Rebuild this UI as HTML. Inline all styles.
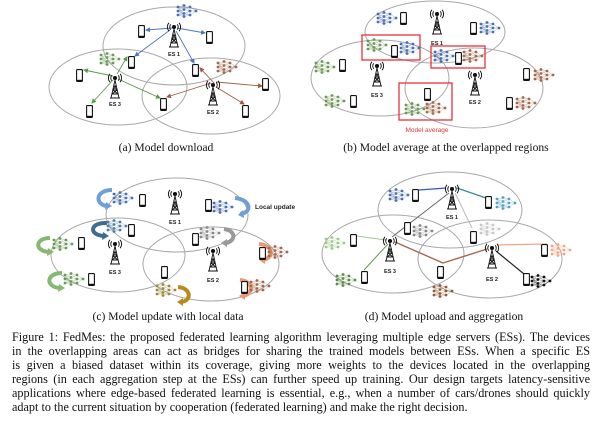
<!DOCTYPE html>
<html><head><meta charset="utf-8"><style>
html,body{margin:0;padding:0;background:#fff;width:600px;height:428px;overflow:hidden}
svg{display:block}
.cap{font-family:"Liberation Serif",serif;font-size:11.6px;fill:#111}
.es{font-family:"Liberation Sans",sans-serif;font-size:5.5px;font-weight:bold;fill:#222}
.el{fill:none;stroke:#a8a8a8;stroke-width:1}
#txt{position:absolute;left:12px;top:330px;width:578px;font-family:"Liberation Serif",serif;font-size:12.2px;line-height:14px;color:#111}
#txt div{text-align:justify;text-align-last:justify;white-space:nowrap}
#txt div.l{text-align-last:left}
</style></head><body>
<svg width="600" height="428" viewBox="0 0 600 428" style="position:absolute;left:0;top:0">
<defs>
<symbol id="nn" viewBox="0 0 20 14" overflow="visible">
<g stroke="currentColor" stroke-width="0.35" fill="none" opacity="0.8">
<path d="M1 3L7 1.5M1 3L7 5.5M1 3L7 9.5M1 7L7 1.5M1 7L7 5.5M1 7L7 9.5M1 7L7 12.5M1 11L7 5.5M1 11L7 9.5M1 11L7 12.5M1 3L7 12.5M7 1.5L13 3M7 5.5L13 3M7 5.5L13 7M7 9.5L13 7M7 9.5L13 11M7 12.5L13 11M7 1.5L13 7M7 12.5L13 7M13 3L19 7M13 7L19 7M13 11L19 7"/>
</g>
<g fill="currentColor">
<circle cx="1" cy="3" r="1.4"/><circle cx="1" cy="7" r="1.4"/><circle cx="1" cy="11" r="1.4"/>
<circle cx="7" cy="1.5" r="1.4"/><circle cx="7" cy="5.5" r="1.4"/><circle cx="7" cy="9.5" r="1.4"/><circle cx="7" cy="12.5" r="1.4"/>
<circle cx="13" cy="3" r="1.4"/><circle cx="13" cy="7" r="1.4"/><circle cx="13" cy="11" r="1.4"/>
<circle cx="19" cy="7" r="1.4"/>
</g>
</symbol>
<symbol id="ph" viewBox="0 0 7 13" overflow="visible">
<rect x="0.6" y="0.6" width="5.8" height="11.8" rx="0.8" fill="#fff" stroke="#111" stroke-width="1.1"/>
<rect x="0.6" y="10.8" width="5.8" height="1.6" fill="#111"/>
</symbol>
<symbol id="tw" viewBox="0 0 14 26" overflow="visible">
<g fill="none" stroke="#111" stroke-width="0.9">
<circle cx="7" cy="5" r="1.6" fill="#111"/>
<path d="M3.8 2.3A4 4 0 0 0 3.8 7.7M10.2 2.3A4 4 0 0 1 10.2 7.7M2 0.8A6.3 6.3 0 0 0 2 9.2M12 0.8A6.3 6.3 0 0 1 12 9.2"/>
<path d="M7 7L3 25M7 7L11 25M5.6 13L8.4 13M4.8 17L9.2 17M4 21L10 21M5.6 13L9.2 17M8.4 13L4.8 17M4.8 17L10 21M9.2 17L4 21M2 25L12 25"/>
</g>
</symbol>
<marker id="ab" markerWidth="5" markerHeight="5" refX="4" refY="2.5" orient="auto" markerUnits="userSpaceOnUse"><path d="M0 0L5 2.5L0 5z" fill="#4a78c0"/></marker>
<marker id="ag" markerWidth="5" markerHeight="5" refX="4" refY="2.5" orient="auto" markerUnits="userSpaceOnUse"><path d="M0 0L5 2.5L0 5z" fill="#5a9a4a"/></marker>
<marker id="ar" markerWidth="5" markerHeight="5" refX="4" refY="2.5" orient="auto" markerUnits="userSpaceOnUse"><path d="M0 0L5 2.5L0 5z" fill="#a05a40"/></marker>
</defs>

<!-- (a) -->
<ellipse class="el" cx="174" cy="46" rx="71" ry="39"/>
<ellipse class="el" cx="118" cy="87" rx="69" ry="38"/>
<ellipse class="el" cx="211" cy="96" rx="69" ry="38"/>
<g stroke="#4a78c0" stroke-width="0.9" marker-end="url(#ab)">
<line x1="172" y1="28" x2="146" y2="30"/><line x1="177" y1="28" x2="205" y2="33"/>
<line x1="170" y1="30" x2="135" y2="56"/><line x1="176" y1="31" x2="194" y2="63"/>
</g>
<g stroke="#5a9a4a" stroke-width="0.9" marker-end="url(#ag)">
<line x1="113" y1="76" x2="84" y2="70"/><line x1="113" y1="80" x2="92" y2="103"/>
<line x1="118" y1="79" x2="160" y2="98"/><line x1="117" y1="74" x2="127" y2="57"/>
</g>
<g stroke="#a05a40" stroke-width="0.9" marker-end="url(#ar)">
<line x1="211" y1="83" x2="167" y2="97"/><line x1="214" y1="83" x2="200" y2="68"/>
<line x1="216" y1="82" x2="262" y2="86"/><line x1="216" y1="87" x2="244" y2="104"/>
</g>
<use href="#nn" x="177" y="4" width="20" height="14" style="color:#4a6fb0"/>
<use href="#nn" x="100" y="52" width="20" height="14" style="color:#6a9a55"/>
<use href="#nn" x="217" y="60" width="20" height="14" style="color:#a5684a"/>
<use href="#tw" x="167" y="22" width="14" height="26"/><text class="es" x="174" y="56" text-anchor="middle">ES 1</text>
<use href="#tw" x="108" y="73" width="14" height="26"/><text class="es" x="115" y="106" text-anchor="middle">ES 3</text>
<use href="#tw" x="206" y="80" width="14" height="26"/><text class="es" x="213" y="114" text-anchor="middle">ES 2</text>
<use href="#ph" x="138" y="25" width="7" height="13"/><use href="#ph" x="206" y="31" width="7" height="13"/>
<use href="#ph" x="128" y="56" width="7" height="13"/><use href="#ph" x="192" y="64" width="7" height="13"/>
<use href="#ph" x="76" y="69" width="7" height="13"/><use href="#ph" x="262" y="78" width="7" height="13"/>
<use href="#ph" x="86" y="105" width="7" height="13"/><use href="#ph" x="160" y="98" width="7" height="13"/>
<use href="#ph" x="242" y="105" width="7" height="13"/>
<text class="cap" x="166" y="151" text-anchor="middle">(a) Model download</text>

<!-- (b) -->
<ellipse class="el" cx="435" cy="32" rx="70" ry="31"/>
<ellipse class="el" cx="380" cy="78" rx="69" ry="38"/>
<ellipse class="el" cx="474" cy="88" rx="69" ry="40"/>
<g fill="none" stroke="#e8333a" stroke-width="1.3">
<rect x="362" y="35" width="58" height="25"/><rect x="431" y="46" width="54" height="22"/><rect x="399" y="83" width="53" height="37"/>
</g>
<text x="427" y="132" text-anchor="middle" style="font-family:'Liberation Sans',sans-serif;font-size:6.5px;fill:#e8333a">Model average</text>
<use href="#tw" x="430" y="9" width="14" height="26"/><text class="es" x="437" y="45" text-anchor="middle">ES 1</text>
<use href="#tw" x="370" y="61" width="14" height="26"/><text class="es" x="377" y="97" text-anchor="middle">ES 3</text>
<use href="#tw" x="468" y="70" width="14" height="26"/><text class="es" x="475" y="104" text-anchor="middle">ES 2</text>
<g style="color:#4a6fb0"><use href="#nn" x="377" y="11" width="20" height="14"/><use href="#nn" x="480" y="21" width="20" height="14"/><use href="#nn" x="400" y="41" width="20" height="14"/><use href="#nn" x="434" y="49" width="20" height="14"/></g>
<g style="color:#6a9a55"><use href="#nn" x="367" y="38" width="20" height="14"/><use href="#nn" x="315" y="60" width="20" height="14"/><use href="#nn" x="325" y="94" width="20" height="14"/><use href="#nn" x="405" y="102" width="20" height="14"/></g>
<g style="color:#a5684a"><use href="#nn" x="463" y="49" width="20" height="14"/><use href="#nn" x="534" y="68" width="20" height="14"/><use href="#nn" x="516" y="96" width="20" height="14"/><use href="#nn" x="426" y="101" width="20" height="14"/></g>
<use href="#ph" x="400" y="12" width="7" height="13"/><use href="#ph" x="470" y="22" width="7" height="13"/>
<use href="#ph" x="391" y="45" width="7" height="13"/><use href="#ph" x="455" y="52" width="7" height="13"/>
<use href="#ph" x="339" y="59" width="7" height="13"/><use href="#ph" x="350" y="95" width="7" height="13"/>
<use href="#ph" x="424" y="88" width="7" height="13"/><use href="#ph" x="523" y="68" width="7" height="13"/>
<use href="#ph" x="506" y="97" width="7" height="13"/>
<text class="cap" x="446" y="151" text-anchor="middle">(b) Model average at the overlapped regions</text>

<!-- (c) -->
<ellipse class="el" cx="177" cy="215" rx="71" ry="37"/>
<ellipse class="el" cx="118" cy="255" rx="67" ry="37"/>
<ellipse class="el" cx="211" cy="264" rx="68" ry="37"/>
<g fill="none" stroke-width="4" stroke-linecap="butt">
<path d="M112 190C96 190 94 204 107 206" stroke="#6f9fd6"/>
<path d="M235 198C252 200 252 213 240 214" stroke="#6f9fd6"/>
<path d="M107 223C90 222 88 235 104 236" stroke="#3f6d8f"/>
<path d="M50 238C35 238 34 251 49 252" stroke="#86b873"/>
<path d="M62 273C46 273 45 287 60 288" stroke="#86b873"/>
<path d="M224 229C238 231 235 243 224 243" stroke="#999"/>
<path d="M259 244C274 245 274 259 262 260" stroke="#e89a76"/>
<path d="M240 280C254 281 254 295 242 296" stroke="#e89a76"/>
<path d="M178 287C192 288 192 302 180 302" stroke="#b88a1e"/>
</g>
<g><path d="M106 202L112 206L105 210z" fill="#6f9fd6"/><path d="M243 210L238 215L244 218z" fill="#6f9fd6"/><path d="M103 232L109 236L102 240z" fill="#3f6d8f"/><path d="M48 248L54 252L47 256z" fill="#86b873"/><path d="M59 284L65 288L58 292z" fill="#86b873"/><path d="M227 239L221 243L227 247z" fill="#999"/><path d="M265 256L259 260L265 264z" fill="#e89a76"/><path d="M245 292L239 296L245 300z" fill="#e89a76"/><path d="M183 298L177 302L183 306z" fill="#b88a1e"/></g>
<text x="255" y="209" style="font-family:'Liberation Sans',sans-serif;font-size:6.5px;font-weight:bold;fill:#222">Local update</text>
<use href="#tw" x="168" y="189" width="14" height="26"/><text class="es" x="175" y="224" text-anchor="middle">ES 1</text>
<use href="#tw" x="108" y="239" width="14" height="26"/><text class="es" x="115" y="274" text-anchor="middle">ES 3</text>
<use href="#tw" x="206" y="246" width="14" height="26"/><text class="es" x="213" y="282" text-anchor="middle">ES 2</text>
<use href="#nn" x="113" y="191" width="20" height="14" style="color:#4a6fb0"/>
<use href="#nn" x="213" y="200" width="20" height="14" style="color:#4a6fb0"/>
<use href="#nn" x="107" y="219" width="20" height="14" style="color:#4a7fa0"/>
<use href="#nn" x="53" y="237" width="20" height="14" style="color:#6a9a55"/>
<use href="#nn" x="64" y="272" width="20" height="14" style="color:#6a9a55"/>
<use href="#nn" x="200" y="226" width="20" height="14" style="color:#888"/>
<use href="#nn" x="268" y="245" width="20" height="14" style="color:#a5684a"/>
<use href="#nn" x="250" y="279" width="20" height="14" style="color:#a5684a"/>
<use href="#nn" x="156" y="283" width="20" height="14" style="color:#9a8a3a"/>
<use href="#ph" x="139" y="194" width="7" height="13"/><use href="#ph" x="205" y="199" width="7" height="13"/>
<use href="#ph" x="128" y="224" width="7" height="13"/><use href="#ph" x="78" y="237" width="7" height="13"/>
<use href="#ph" x="88" y="273" width="7" height="13"/><use href="#ph" x="192" y="233" width="7" height="13"/>
<use href="#ph" x="161" y="266" width="7" height="13"/><use href="#ph" x="259" y="247" width="7" height="13"/>
<use href="#ph" x="241" y="281" width="7" height="13"/>
<text class="cap" x="168" y="320" text-anchor="middle">(c) Model update with local data</text>

<!-- (d) -->
<ellipse class="el" cx="450" cy="210" rx="72" ry="38"/>
<ellipse class="el" cx="393" cy="254" rx="71" ry="39"/>
<ellipse class="el" cx="490" cy="259" rx="72" ry="39"/>
<g stroke-width="1" fill="none">
<line x1="419" y1="190" x2="446" y2="188" stroke="#2d5ea8" stroke-width="1.3"/>
<line x1="457" y1="188" x2="486" y2="198" stroke="#3a86a8" stroke-width="1.3"/>
<line x1="449" y1="193" x2="392" y2="237" stroke="#666"/>
<line x1="455" y1="193" x2="472" y2="228" stroke="#bbb"/>
<line x1="357" y1="236" x2="386" y2="240" stroke="#9cc98a"/>
<line x1="364" y1="270" x2="388" y2="244" stroke="#5a9a4a"/>
<polyline points="395,242 443,263 487,249" stroke="#a5684a" stroke-width="1.4"/>
<line x1="547" y1="244" x2="497" y2="245" stroke="#f0a882" stroke-width="1.3"/>
<line x1="524" y1="274" x2="496" y2="251" stroke="#222" stroke-width="1.2"/>
</g>
<use href="#tw" x="445" y="184" width="14" height="26"/><text class="es" x="452" y="219" text-anchor="middle">ES 1</text>
<use href="#tw" x="383" y="236" width="14" height="26"/><text class="es" x="390" y="273" text-anchor="middle">ES 3</text>
<use href="#tw" x="485" y="243" width="14" height="26"/><text class="es" x="492" y="281" text-anchor="middle">ES 2</text>
<use href="#nn" x="389" y="188" width="20" height="14" style="color:#4a6fb0"/>
<use href="#nn" x="496" y="196" width="20" height="14" style="color:#5aa0c0"/>
<use href="#nn" x="413" y="224" width="20" height="14" style="color:#888"/>
<use href="#nn" x="480" y="222" width="20" height="14" style="color:#c8c8c8"/>
<use href="#nn" x="325" y="236" width="20" height="14" style="color:#9cc98a"/>
<use href="#nn" x="336" y="273" width="20" height="14" style="color:#5a8a45"/>
<use href="#nn" x="551" y="243" width="20" height="14" style="color:#f0a882"/>
<use href="#nn" x="433" y="284" width="20" height="14" style="color:#955a3e"/>
<use href="#nn" x="531" y="274" width="20" height="14" style="color:#111"/>
<use href="#ph" x="412" y="189" width="7" height="13"/><use href="#ph" x="485" y="196" width="7" height="13"/>
<use href="#ph" x="404" y="222" width="7" height="13"/><use href="#ph" x="470" y="231" width="7" height="13"/>
<use href="#ph" x="350" y="234" width="7" height="13"/><use href="#ph" x="361" y="271" width="7" height="13"/>
<use href="#ph" x="541" y="244" width="7" height="13"/><use href="#ph" x="437" y="266" width="7" height="13"/>
<use href="#ph" x="523" y="273" width="7" height="13"/>
<text class="cap" x="444" y="320" text-anchor="middle">(d) Model upload and aggregation</text>
</svg>
<div id="txt">
<div>Figure 1: FedMes: the proposed federated learning algorithm leveraging multiple edge servers (ESs). The devices</div>
<div>in the overlapping areas can act as bridges for sharing the trained models between ESs. When a specific ES</div>
<div>is given a biased dataset within its coverage, giving more weights to the devices located in the overlapping</div>
<div>regions (in each aggregation step at the ESs) can further speed up training. Our design targets latency-sensitive</div>
<div>applications where edge-based federated learning is essential, e.g., when a number of cars/drones should quickly</div>
<div class="l">adapt to the current situation by cooperation (federated learning) and make the right decision.</div>
</div>
</body></html>
